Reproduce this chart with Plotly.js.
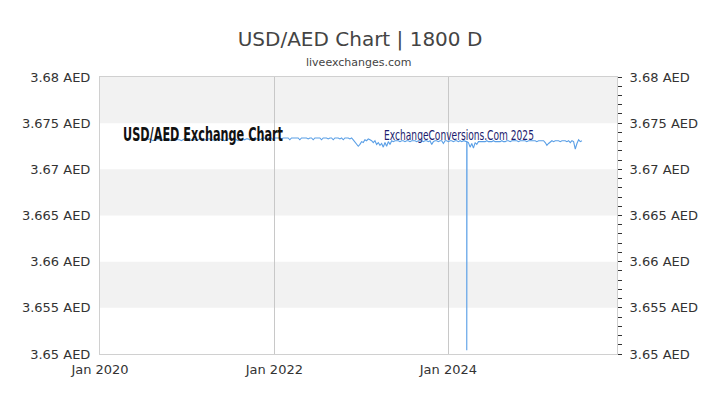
<!DOCTYPE html>
<html>
<head>
<meta charset="utf-8">
<script src="https://cdn.plot.ly/plotly-3.0.1.min.js"></script>
<style>html,body{margin:0;padding:0;background:#fff}#chart{width:720px;height:405px}</style>
</head>
<body>
<div id="chart"></div>
<script>
// Weekly USD/AED rates, starting 2020-07-20 (1800 days window)
const startDate = '2020-07-20';
const stepDays = 7;
const rates = [
3.6732,3.6733,3.6732,3.6731,3.6732,3.6732,3.6733,3.6732,3.6731,3.6732,
3.6732,3.6733,3.6733,3.6732,3.6731,3.6732,3.6732,3.6733,3.6732,3.6732,
3.6731,3.6732,3.6733,3.6732,3.6732,3.6731,3.6732,3.6733,3.6732,3.6732,
3.6732,3.6733,3.6732,3.6731,3.6732,3.6732,3.6733,3.6733,3.6732,3.6732,
3.6731,3.6732,3.6732,3.6733,3.6732,3.6732,3.6731,3.6732,3.6733,3.6733,
3.6732,3.6732,3.6733,3.6732,3.6731,3.6732,3.6733,3.6733,3.6732,3.6733,
3.6733,3.6732,3.6733,3.6733,3.6734,3.6733,3.6733,3.6732,3.6733,3.6734,
3.6734,3.6733,3.6734,3.6734,3.6734,3.6732,3.6734,3.6734,3.6734,3.6734,
3.6733,3.6734,3.6734,3.6734,3.6734,3.6732,3.6734,3.6734,3.6734,3.6734,
3.6734,3.6732,3.6734,3.6734,3.6734,3.6734,3.6733,3.6734,3.6734,3.6732,
3.6734,3.6734,3.6734,3.6734,3.6732,3.6734,3.6734,3.6734,3.6733,3.6734,
3.6734,3.6732,3.6734,3.6734,3.6734,3.6733,3.6734,3.6732,3.6734,3.6734,
3.6734,3.6733,3.6734,3.6732,3.6730,3.6728,3.6725,3.6727,3.6730,3.6729,
3.6732,3.6731,3.6733,3.6732,3.6731,3.6729,3.6731,3.6727,3.6729,3.6726,
3.6728,3.6724,3.6729,3.6725,3.6730,3.6727,3.6731,3.6730,3.6731,3.6731,
3.6731,3.6730,3.6731,3.6731,3.6730,3.6731,3.6731,3.6730,3.6731,3.6731,
3.6731,3.6730,3.6731,3.6731,3.6731,3.6730,3.6731,3.6731,3.6730,3.6731,
3.6727,3.6730,3.6731,3.6731,3.6730,3.6731,3.6731,3.6728,3.6731,3.6731,
3.6730,3.6731,3.6731,3.6730,3.6731,3.6731,3.6730,3.6731,3.6730,3.6731,
3.6730,3.6730,3.6729,3.6724,3.6728,3.6723,3.6729,3.6727,3.6730,3.6730,
3.6730,3.6730,3.6730,3.6731,3.6730,3.6730,3.6730,3.6731,3.6730,3.6730,
3.6730,3.6730,3.6731,3.6730,3.6730,3.6731,3.6731,3.6730,3.6731,3.6731,
3.6731,3.6731,3.6730,3.6731,3.6731,3.6731,3.6731,3.6730,3.6731,3.6731,
3.6731,3.6731,3.6731,3.6730,3.6731,3.6731,3.6731,3.6731,3.6729,3.6726,
3.6728,3.6730,3.6731,3.6730,3.6731,3.6731,3.6731,3.6730,3.6731,3.6731,
3.6731,3.6730,3.6731,3.6729,3.6731,3.6730,3.6722,3.6728,3.6732,3.6730,3.6731
];
// single-day outlier around mid-March 2024
const spikeDates = ['2024-03-17','2024-03-18','2024-03-19'];
const spikeRates = [3.6730, 3.6504, 3.6730];

const xTickVals = ['2020-01-01','2022-01-01','2024-01-01'];
const xTickText = ['Jan 2020','Jan 2022','Jan 2024'];
const yTickVals = [3.65,3.655,3.66,3.665,3.67,3.675,3.68];
const yTickText = ['3.65 AED','3.655 AED','3.66 AED','3.665 AED','3.67 AED','3.675 AED','3.68 AED'];

// build the series (weekly dates + spike days), sorted by date
const pts = [];
const d0 = new Date(startDate + 'T00:00:00Z');
for (let i = 0; i < rates.length; i++) {
  const d = new Date(d0.getTime() + i * stepDays * 86400000);
  pts.push([d.toISOString().slice(0,10), rates[i]]);
}
for (let i = 0; i < spikeDates.length; i++) pts.push([spikeDates[i], spikeRates[i]]);
pts.sort((a,b) => a[0] < b[0] ? -1 : a[0] > b[0] ? 1 : 0);
const dates = pts.map(p => p[0]);
const values = pts.map(p => p[1]);

const shapes = [];
for (let i = 0; i < yTickVals.length - 1; i++) {
  if (i % 2 === 1) {
    shapes.push({type:'rect', xref:'paper', yref:'y', x0:0, x1:1,
      y0:yTickVals[i], y1:yTickVals[i+1], fillcolor:'#f2f2f2', line:{width:0}, layer:'below'});
  }
}

const tickFont = {family:'DejaVu Sans, Verdana, sans-serif', size:13, color:'#333'};

const data = [
  {x:dates, y:values, type:'scatter', mode:'lines', line:{color:'#5a9fe6', width:1.1}, hoverinfo:'skip', yaxis:'y'},
  {x:[dates[0]], y:[values[0]], type:'scatter', mode:'markers', opacity:0, hoverinfo:'skip', yaxis:'y2', showlegend:false}
];

const layout = {
  width:720, height:405,
  paper_bgcolor:'#fff', plot_bgcolor:'rgba(0,0,0,0)',
  showlegend:false,
  margin:{l:100, r:103, t:77, b:51},
  title:{text:'USD/AED Chart | 1800 D', font:{family:'DejaVu Sans, Verdana, sans-serif', size:20, color:'#444'},
         x:0.5, xanchor:'center', y:1-39/405, yanchor:'middle'},
  xaxis:{type:'date', range:['2020-01-01','2025-12-08'], tickvals:xTickVals, ticktext:xTickText,
         showgrid:true, gridcolor:'#c8c8c8', gridwidth:1, showline:true, linecolor:'#d0d0d0', mirror:true,
         ticks:'', ticklabelstandoff:3, tickfont:tickFont, zeroline:false, fixedrange:true},
  yaxis:{range:[3.65,3.68], tickvals:yTickVals, ticktext:yTickText, showgrid:false, zeroline:false,
         showline:true, linecolor:'#d0d0d0', mirror:true, ticks:'', ticklabelstandoff:6, tickfont:tickFont},
  yaxis2:{range:[3.65,3.68], overlaying:'y', side:'right', tickvals:yTickVals, ticktext:yTickText,
          showgrid:false, zeroline:false, showline:false, ticks:'outside', ticklen:4, tickcolor:'#333', tickwidth:1,
          minor:{dtick:0.001, tick0:3.65, ticks:'outside', ticklen:4, tickcolor:'#333', tickwidth:1, showgrid:false},
          ticklabelstandoff:5, tickfont:tickFont},
  shapes:shapes,
  annotations:[
    {text:'liveexchanges.com', xref:'paper', yref:'paper', x:0.5, y:1+14/277, xanchor:'center', yanchor:'middle',
     showarrow:false, font:{family:'DejaVu Sans, Verdana, sans-serif', size:11, color:'#444'}},
    {text:'<b>USD/AED Exchange Chart</b>', xref:'paper', yref:'paper', x:21/517, y:(354-134)/277, xanchor:'left', yanchor:'middle',
     showarrow:false, font:{family:'DejaVu Sans, sans-serif', size:19, color:'#111'}},
    {text:'ExchangeConversions.Com 2025', xref:'paper', yref:'paper', x:282/517, y:(354-135)/277, xanchor:'left', yanchor:'middle',
     showarrow:false, font:{family:'DejaVu Sans, sans-serif', size:14, color:'#1c1c6e'}}
  ]
};

// target widths (px) for the condensed watermark texts
const condensedWidths = [null, 160, 150];

Plotly.newPlot('chart', data, layout, {displayModeBar:false, staticPlot:true}).then(gd => {
  const texts = gd.querySelectorAll('.annotation-text');
  texts.forEach((t, i) => {
    const w = condensedWidths[i];
    if (!w) return;
    const bb = t.getBBox();
    const sx = w / bb.width;
    const x0 = bb.x;
    const prev = t.getAttribute('transform') || '';
    t.setAttribute('transform', prev + ' translate(' + x0 + ',0) scale(' + sx + ',1) translate(' + (-x0) + ',0)');
  });
});
</script>
</body>
</html>
